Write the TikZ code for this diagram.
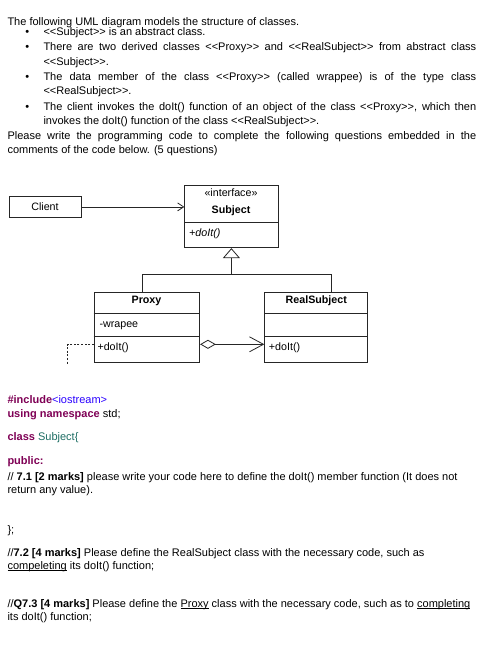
\documentclass[tikz,border=0pt]{standalone}
\usepackage{fontspec}
\setmainfont{Liberation Sans}
\usetikzlibrary{arrows.meta}
\definecolor{kwc}{HTML}{7F0055}
\definecolor{strc}{HTML}{2A00FF}
\definecolor{clsc}{HTML}{1E6E64}
\definecolor{linec}{HTML}{262626}
\newcommand\LL{<\kern0pt<}
\newcommand\GG{>\kern0pt>}
\newcommand\undl[1]{\setbox0\hbox{#1}\rlap{\rule[-1.8pt]{\wd0}{0.7pt}}\box0\relax}
\newcommand\kwd[1]{{\bfseries\color{kwc}#1}}
\begin{document}
\begin{tikzpicture}[x=1pt,y=-1pt,
  txt/.style={anchor=base west, inner sep=0pt, font=\fontsize{11}{13}\selectfont},
  bul/.style={anchor=base, inner sep=0pt, font=\fontsize{11}{13}\selectfont},
  dtxt/.style={anchor=base, inner sep=0pt, font=\fontsize{10.7}{13}\selectfont},
  umlbox/.style={draw=linec, line width=0.8pt, anchor=north west, inner sep=0pt},
  conn/.style={draw=linec, line width=0.8pt},
  openarrow/.style={-{Straight Barb[length=6pt,width=8pt,line width=0.8pt]}},
  inh/.style={-{Triangle[open,length=10pt,width=17pt,line width=0.8pt]}},
  agg/.style={{Diamond[open,length=15.7pt,width=9pt,line width=0.8pt]}-{Straight Barb[length=14pt,width=15pt,line width=0.8pt]}},
  dep/.style={dash pattern=on 2pt off 1.6pt}
]
\useasboundingbox[fill=white] (0,0) rectangle (487,647);

% ---------- intro text ----------
\node[txt] (l1) at (7.3,25.5) {The following UML diagram models the structure of classes.};
\node[bul] (b1) at (27.3,36) {•};
\node[txt] (t1) at (43.3,36) {\LL Subject\GG\ is an abstract class.};
\node[bul] (b2) at (27.3,51) {•};
\node[txt] (t2a) at (43.3,51) {\makebox[432.7pt][s]{There are two derived classes \LL Proxy\GG\ and \LL RealSubject\GG\ from abstract class}};
\node[txt] (t2b) at (43.3,65.5) {\LL Subject\GG.};
\node[bul] (b3) at (27.3,80.5) {•};
\node[txt] (t3a) at (43.3,80.5) {\makebox[432.7pt][s]{The data member of the class \LL Proxy\GG\ (called wrappee) is of the type class}};
\node[txt] (t3b) at (43.3,95) {\LL RealSubject\GG.};
\node[bul] (b4) at (27.3,110.5) {•};
\node[txt] (t4a) at (43.3,110.5) {\makebox[432.7pt][s]{The client invokes the doIt() function of an object of the class \LL Proxy\GG, which then}};
\node[txt] (t4b) at (43.3,125) {invokes the doIt() function of the class \LL RealSubject\GG.};
\node[txt] (p1) at (7.3,139.5) {\makebox[468.7pt][s]{Please write the programming code to complete the following questions embedded in the}};
\node[txt] (p2) at (7.3,153.5) {comments of the code below. (5 questions)};

% ---------- UML diagram ----------
\node[umlbox, minimum width=71.4pt, minimum height=21.6pt] (client) at (9.3,195.7) {};
\node[dtxt] (clientt) at (45,210.3) {Client};

\node[umlbox, minimum width=93.4pt, minimum height=62.3pt] (subj) at (184.3,185) {};
\node[dtxt] (subjst) at (231,196.7) {«interface»};
\node[dtxt, font=\fontsize{10.7}{13}\bfseries] (subjn) at (231,213.3) {Subject};
\draw[conn] (184.3,222.7) -- (277.7,222.7);
\node[txt, font=\fontsize{10.7}{13}\itshape] (subjm) at (189,236.7) {+doIt()};

\node[umlbox, minimum width=105.6pt, minimum height=70.3pt] (proxy) at (93.7,291.7) {};
\node[dtxt, font=\fontsize{10.7}{13}\bfseries] (proxyn) at (146.5,303.3) {Proxy};
\draw[conn] (93.7,313.3) -- (199.3,313.3);
\draw[conn] (93.7,336.7) -- (199.3,336.7);
\node[txt, font=\fontsize{10.7}{13}\selectfont] (proxya) at (99.3,327.7) {-wrapee};
\node[txt, font=\fontsize{10.7}{13}\selectfont] (proxym) at (97.3,350.7) {+doIt()};

\node[umlbox, minimum width=102.7pt, minimum height=70.3pt] (real) at (264.3,291.7) {};
\node[dtxt, font=\fontsize{10.7}{13}\bfseries] (realn) at (316.3,303.3) {RealSubject};
\draw[conn] (264.3,313.3) -- (367,313.3);
\draw[conn] (264.3,336.7) -- (367,336.7);
\node[txt, font=\fontsize{10.7}{13}\selectfont] (realm) at (268.7,350.7) {+doIt()};

% connectors
\draw[conn, openarrow] (client.east) -- (client.east -| subj.west);
\coordinate (jp) at (142.3,274.3);
\coordinate (jr) at (331.7,274.3);
\coordinate (jm) at (subj.south |- jp);
\draw[conn] (jp |- proxy.north) -- (jp) -- (jr) -- (jr |- real.north);
\draw[conn, inh] (jm) -- (subj.south);
\coordinate (ay) at (0,344.3);
\draw[conn, agg] (ay -| proxy.east) -- (ay -| real.west);
\coordinate (dend) at (67.7,365);
\draw[conn, dep] (ay -| proxy.west) -- (ay -| dend) -- (dend);

% ---------- code ----------
\node[txt] (c1) at (7.3,403.7) {\kwd{\#include}{\color{strc}<iostream>}};
\node[txt] (c2) at (7.3,417) {\kwd{using namespace} std;};
\node[txt] (c3) at (7.3,440) {\kwd{class} {\color{clsc}Subject\{}};
\node[txt] (c4) at (7.3,464) {\kwd{public:}};
\node[txt] (c5) at (7.3,480) {// \textbf{7.1 [2 marks]} please write your code here to define the doIt() member function (It does not};
\node[txt] (c6) at (7.3,493.3) {return any value).};
\node[txt] (c7) at (7.3,533) {\};};
\node[txt] (c8) at (7.3,556) {//\textbf{7.2 [4 marks]} Please define the RealSubject class with the necessary code, such as};
\node[txt] (c9) at (7.3,569) {\undl{compeleting} its doIt() function;};
\node[txt] (c10) at (7.3,607.3) {//\textbf{Q7.3 [4 marks]} Please define the \undl{Proxy} class with the necessary code, such as to \undl{completing}};
\node[txt] (c11) at (7.3,620) {its doIt() function;};
\end{tikzpicture}
\end{document}
